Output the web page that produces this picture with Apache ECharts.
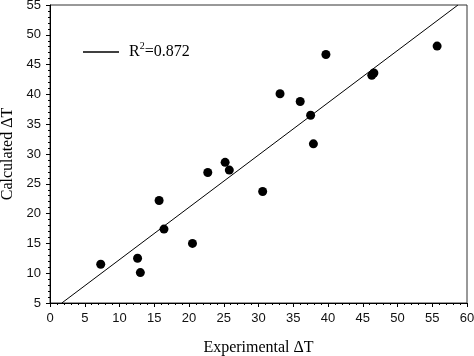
<!DOCTYPE html>
<html>
<head>
<meta charset="utf-8">
<script src="https://cdn.jsdelivr.net/npm/echarts@6/dist/echarts.min.js"></script>
<style>html,body{margin:0;padding:0;background:#fff}#c{width:474px;height:356px}</style>
</head>
<body>
<div id="c"></div>
<script>
// Experimental ΔT vs Calculated ΔT
var expT  = [7.3, 12.6, 13.0, 15.7, 16.4, 20.5, 22.7, 25.2, 25.8, 30.6, 33.1, 36.0, 37.5, 37.9, 39.7, 46.3, 46.6, 55.7];
var calcT = [11.5, 12.5, 10.1, 22.2, 17.4, 15.0, 26.9, 28.6, 27.3, 23.7, 40.1, 38.8, 36.5, 31.7, 46.7, 43.2, 43.6, 48.1];
// fitted line endpoints (R^2 = 0.872)
var fitX = [1.7, 58.7];
var fitY = [5, 55];
var xTicks = [0, 60, 5];
var yTicks = [5, 55, 5];

var pts = expT.map(function (x, i) { return [x, calcT[i]]; });
var fit = fitX.map(function (x, i) { return [x, fitY[i]]; });

var chart = echarts.init(document.getElementById('c'));
var axisCommon = {
  axisLine: { show: true, onZero: false, lineStyle: { color: '#000', width: 1 } },
  axisTick: { show: true, inside: false, length: 4, lineStyle: { color: '#000' } },
  minorTick: { show: true, splitNumber: 5, length: 2, lineStyle: { color: '#000' } },
  splitLine: { show: false },
  axisLabel: { color: '#111', fontFamily: 'Liberation Sans', fontSize: 13 },
  nameLocation: 'middle',
  nameTextStyle: { color: '#000', fontFamily: 'Liberation Serif', fontSize: 16 }
};
chart.setOption({
  animation: false,
  grid: { left: 50, right: 7, top: 5, bottom: 53, outerBoundsMode: 'none', containLabel: false,
          show: true, borderColor: '#333', borderWidth: 1, backgroundColor: 'transparent' },
  legend: {
    data: [{ name: 'fit', icon: 'rect', itemStyle: { color: '#000' } }],
    left: 78, top: 36,
    itemWidth: 36, itemHeight: 1.6,
    formatter: function () { return '{a|R}{b|2}{a|=0.872}'; },
    textStyle: {
      rich: {
        a: { fontFamily: 'Liberation Serif', fontSize: 16, color: '#000' },
        b: { fontFamily: 'Liberation Serif', fontSize: 10, color: '#000', padding: [0, 0, 12, 0] }
      },
      padding: [0, 0, 0, 5]
    }
  },
  xAxis: Object.assign({}, axisCommon, {
    type: 'value', min: xTicks[0], max: xTicks[1], interval: xTicks[2],
    name: 'Experimental ΔT', nameGap: 37,
    axisLabel: Object.assign({}, axisCommon.axisLabel, { margin: 9 })
  }),
  yAxis: Object.assign({}, axisCommon, {
    type: 'value', min: yTicks[0], max: yTicks[1], interval: yTicks[2],
    name: 'Calculated ΔT', nameGap: 32,
    axisLabel: Object.assign({}, axisCommon.axisLabel, { margin: 9 })
  }),
  series: [
    {
      name: 'pts', type: 'scatter', data: pts, symbolSize: 9,
      itemStyle: { color: '#000', opacity: 1 }
    },
    {
      name: 'fit', type: 'line', data: fit, symbol: 'none',
      lineStyle: { color: '#000', width: 1 }, itemStyle: { color: '#000' }
    }
  ]
});
</script>
</body>
</html>
